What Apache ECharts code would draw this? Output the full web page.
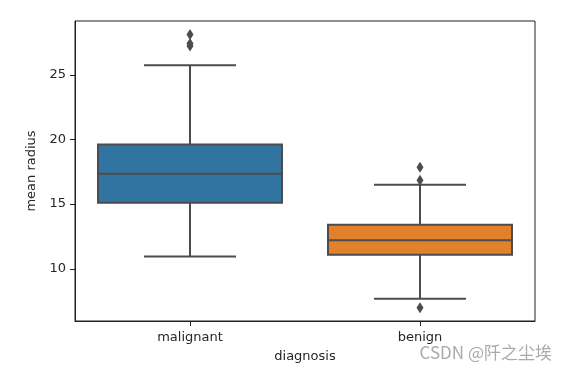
<!DOCTYPE html>
<html><head><meta charset="utf-8">
<script src="https://cdn.jsdelivr.net/npm/echarts@6/dist/echarts.min.js"></script>
<style>html,body{margin:0;padding:0;background:#fff}#c{width:567px;height:371px}</style>
</head><body><div id="c"></div>
<script>
const categories = ['malignant', 'benign'];
// [min whisker, Q1, median, Q3, max whisker]
const malignantBox = [10.95, 15.10, 17.35, 19.60, 25.73];
const benignBox = [7.69, 11.08, 12.20, 13.40, 16.50];
const malignantOutliers = [27.22, 27.42, 28.11];
const benignOutliers = [16.84, 17.85, 6.981];
const boxColors = ['#3274A1', '#E1812C'];
const yTicks = [10, 15, 20, 25];

const boxData = [[0].concat(malignantBox), [1].concat(benignBox)];
const outlierData = malignantOutliers.map(v => [0, v]).concat(benignOutliers.map(v => [1, v]));
const lineColor = '#4c4c4c';
const textColor = '#262626';

const chart = echarts.init(document.getElementById('c'), null, {renderer: 'canvas'});
chart.setOption({
  animation: false,
  grid: {left: 75, top: 21, width: 460, height: 300, show: true, borderColor: '#222', borderWidth: 1, backgroundColor: 'transparent'},
  xAxis: {
    type: 'category', data: categories, boundaryGap: true,
    name: 'diagnosis', nameLocation: 'middle', nameGap: 29,
    nameTextStyle: {fontFamily: 'DejaVu Sans', fontSize: 13, color: textColor},
    axisLine: {show: true, lineStyle: {color: '#222', width: 1}},
    axisTick: {show: true, alignWithLabel: true, length: 5, lineStyle: {color: '#222'}},
    axisLabel: {fontFamily: 'DejaVu Sans', fontSize: 13, color: textColor, margin: 10},
    splitLine: {show: false}
  },
  yAxis: {
    type: 'value', min: 5.96, max: 29.16, splitNumber: 5,
    name: 'mean radius', nameLocation: 'middle', nameGap: 37,
    nameTextStyle: {fontFamily: 'DejaVu Sans', fontSize: 13, color: textColor},
    axisLine: {show: true, lineStyle: {color: '#222', width: 1}},
    axisTick: {show: true, length: 5, lineStyle: {color: '#222'}},
    axisLabel: {fontFamily: 'DejaVu Sans', fontSize: 13, color: textColor, margin: 9,
      showMinLabel: false, showMaxLabel: false,
      formatter: v => yTicks.indexOf(v) >= 0 ? String(v) : ''},
    splitLine: {show: false}
  },
  graphic: [{type: 'text', right: 15, top: 344, style: {text: 'CSDN @阡之尘埃', fontSize: 17, fill: '#aaaaaa', fontFamily: 'Noto Sans CJK SC'}}],
  series: [{
    type: 'custom',
    data: boxData,
    encode: {x: 0, y: [1, 2, 3, 4, 5]},
    renderItem: function (params, api) {
      const c = api.value(0);
      const band = api.size([1, 0])[0];
      const bw = band * 0.8, cw = band * 0.4;
      const pMin = api.coord([c, api.value(1)]);
      const pQ1 = api.coord([c, api.value(2)]);
      const pMed = api.coord([c, api.value(3)]);
      const pQ3 = api.coord([c, api.value(4)]);
      const pMax = api.coord([c, api.value(5)]);
      const x = pMed[0];
      const ls = {stroke: lineColor, lineWidth: 2};
      return {type: 'group', children: [
        {type: 'line', shape: {x1: x, y1: pQ1[1], x2: x, y2: pMin[1]}, style: ls},
        {type: 'line', shape: {x1: x, y1: pQ3[1], x2: x, y2: pMax[1]}, style: ls},
        {type: 'line', shape: {x1: x - cw / 2, y1: pMin[1], x2: x + cw / 2, y2: pMin[1]}, style: ls},
        {type: 'line', shape: {x1: x - cw / 2, y1: pMax[1], x2: x + cw / 2, y2: pMax[1]}, style: ls},
        {type: 'rect', shape: {x: x - bw / 2, y: pQ3[1], width: bw, height: pQ1[1] - pQ3[1]},
          style: {fill: boxColors[c], stroke: lineColor, lineWidth: 2}},
        {type: 'line', shape: {x1: x - bw / 2, y1: pMed[1], x2: x + bw / 2, y2: pMed[1]}, style: ls}
      ]};
    }
  }, {
    type: 'scatter',
    data: outlierData,
    symbol: 'diamond', symbolSize: [7, 11],
    itemStyle: {color: lineColor, opacity: 1}
  }]
});
</script></body></html>
